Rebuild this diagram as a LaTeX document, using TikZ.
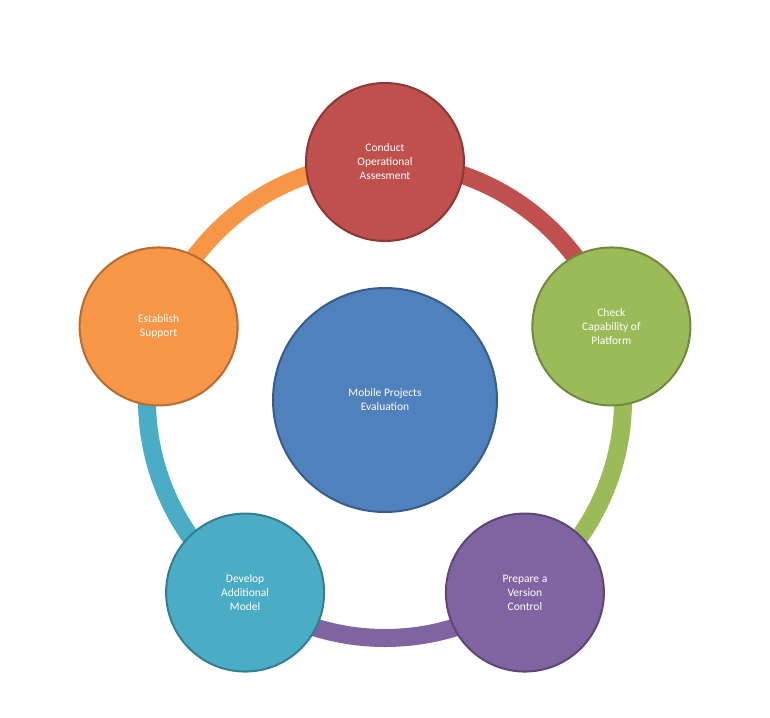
\documentclass[tikz,border=0pt]{standalone}
\usetikzlibrary{calc}
\usepackage{fontspec}
\setmainfont{Carlito}
\definecolor{cR}{HTML}{C0504D}\definecolor{bR}{HTML}{8C3836}
\definecolor{cG}{HTML}{9BBB59}\definecolor{bG}{HTML}{71893F}
\definecolor{cP}{HTML}{8064A2}\definecolor{bP}{HTML}{5C4776}
\definecolor{cT}{HTML}{4BACC6}\definecolor{bT}{HTML}{357D91}
\definecolor{cO}{HTML}{F79646}\definecolor{bO}{HTML}{B66D31}
\definecolor{cB}{HTML}{4F81BD}\definecolor{bB}{HTML}{385D8A}
\begin{document}
\begin{tikzpicture}[x=1pt,y=1pt,
  circ/.style={circle,minimum size=158pt,line width=2pt,text=white,align=center,font=\fontsize{11.5}{14}\selectfont,inner sep=0pt},
  ring/.style={line width=18pt}]
\useasboundingbox (0,0) rectangle (770,-717);
\coordinate (c) at (385,-400);
\draw[ring,cR] (c) ++(90:238) arc (90:18:238);
\draw[ring,cG] (c) ++(18:238) arc (18:-54:238);
\draw[ring,cP] (c) ++(-54:238) arc (-54:-126:238);
\draw[ring,cT] (c) ++(-126:238) arc (-126:-198:238);
\draw[ring,cO] (c) ++(162:238) arc (162:90:238);
\node[circ,minimum size=224pt,fill=cB,draw=bB] (m) at (c) {Mobile Projects\\Evaluation};
\node[circ,fill=cR,draw=bR] (a) at ($(c)+(90:238)$) {Conduct\\Operational\\Assesment};
\node[circ,fill=cG,draw=bG] (b) at ($(c)+(18:238)$) {Check\\Capability of\\Platform};
\node[circ,fill=cP,draw=bP] (d) at ($(c)+(-54:238)$) {Prepare a\\Version\\Control};
\node[circ,fill=cT,draw=bT] (e) at ($(c)+(-126:238)$) {Develop\\Additional\\Model};
\node[circ,fill=cO,draw=bO] (f) at ($(c)+(162:238)$) {Establish\\Support};
\end{tikzpicture}
\end{document}
